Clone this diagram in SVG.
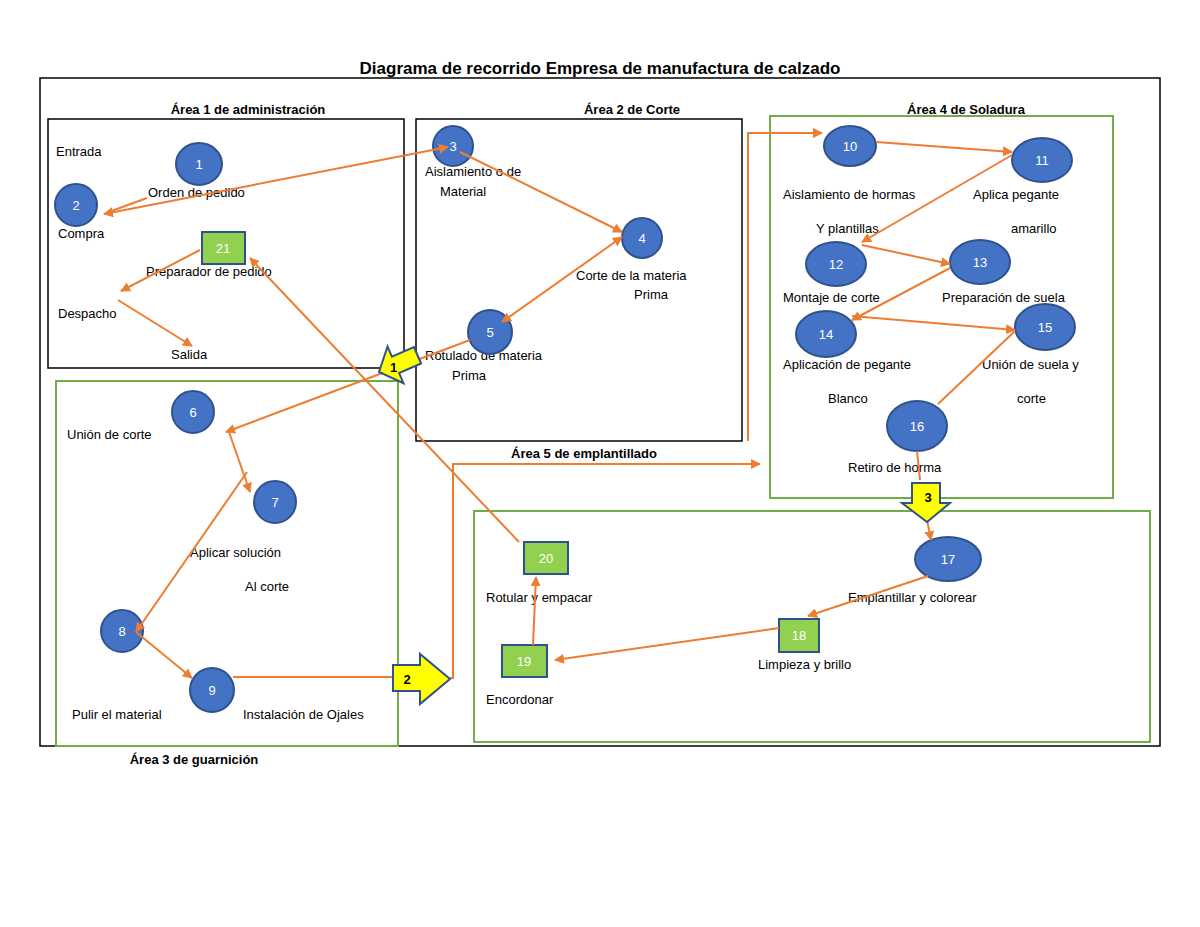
<svg xmlns="http://www.w3.org/2000/svg" width="1200" height="927" viewBox="0 0 1200 927">
<defs>
<marker id="ah" viewBox="0 0 10 10" refX="9" refY="5" markerWidth="5" markerHeight="5" orient="auto-start-reverse"><path d="M0,0 L10,5 L0,10 z" fill="#ED7D31"/></marker>
<style>
text{font-family:"Liberation Sans",Arial,sans-serif;font-size:13px;fill:#000}
.t{font-size:17px;font-weight:bold}
.a{font-weight:bold;text-anchor:middle}
.n{fill:#4472C4;stroke:#2F528F;stroke-width:2}
.s{fill:#92D050;stroke:#2F528F;stroke-width:2}
.w{fill:#fff;text-anchor:middle;font-size:13px}
.c{fill:none;stroke:#ED7D31;stroke-width:2}
.bk{fill:none;stroke:#000;stroke-width:1.5}
.gr{fill:none;stroke:#70AD47;stroke-width:2}
.y{fill:#FFFF00;stroke:#2F528F;stroke-width:2}
</style>
</defs>
<rect width="1200" height="927" fill="#fff"/>
<text class="t" x="600" y="74" text-anchor="middle">Diagrama de recorrido Empresa de manufactura de calzado</text>
<g id="areas">
<rect class="bk" x="40" y="78" width="1120" height="668"/>
<rect class="bk" x="48" y="119" width="356" height="249"/>
<rect class="bk" x="416" y="119" width="326" height="322"/>
<rect class="gr" x="770" y="116" width="343" height="382"/>
<rect class="gr" x="56" y="381" width="342" height="365"/>
<rect class="gr" x="474" y="511" width="676" height="231"/>
<text class="a" x="248" y="114">Área 1 de administración</text>
<text class="a" x="632" y="114">Área 2 de Corte</text>
<text class="a" x="966" y="114">Área 4 de Soladura</text>
<text class="a" x="194" y="764">Área 3 de guarnición</text>
<text class="a" x="584" y="458">Área 5 de emplantillado</text>
</g>
<g id="labels">
<text x="56" y="156">Entrada</text><text x="148" y="197">Orden de pedido</text><text x="58" y="238">Compra</text>
<text x="146" y="276">Preparador de pedido</text><text x="58" y="318">Despacho</text><text x="171" y="359">Salida</text>
<text x="425" y="176">Aislamiento o de</text><text x="440" y="196">Material</text>
<text x="576" y="280">Corte de la materia</text><text x="634" y="299">Prima</text>
<text x="425" y="360">Rotulado de materia</text><text x="452" y="380">Prima</text>
<text x="67" y="439">Unión de corte</text><text x="190" y="557">Aplicar solución</text><text x="245" y="591">Al corte</text>
<text x="72" y="719">Pulir el material</text><text x="243" y="719">Instalación de Ojales</text>
<text x="783" y="199">Aislamiento de hormas</text><text x="973" y="199">Aplica pegante</text>
<text x="816" y="233">Y plantillas</text><text x="1011" y="233">amarillo</text>
<text x="783" y="302">Montaje de corte</text><text x="942" y="302">Preparación de suela</text>
<text x="783" y="369">Aplicación de pegante</text><text x="982" y="369">Unión de suela y</text>
<text x="828" y="403">Blanco</text><text x="1017" y="403">corte</text><text x="848" y="472">Retiro de horma</text>
<text x="486" y="602">Rotular y empacar</text><text x="848" y="602">Emplantillar y colorear</text>
<text x="758" y="669">Limpieza y brillo</text><text x="486" y="704">Encordonar</text>
</g>
<g id="n1"><ellipse class="n" cx="199" cy="164" rx="23" ry="21"/><text class="w" x="199" y="169">1</text></g>
<g id="n2"><ellipse class="n" cx="76" cy="205" rx="21" ry="21"/><text class="w" x="76" y="210">2</text></g>
<g id="n3"><ellipse class="n" cx="453" cy="146" rx="20" ry="20"/><text class="w" x="453" y="151">3</text></g>
<g id="n4"><ellipse class="n" cx="642" cy="238" rx="20" ry="20"/><text class="w" x="642" y="243">4</text></g>
<g id="n5"><ellipse class="n" cx="490" cy="332" rx="22" ry="22"/><text class="w" x="490" y="337">5</text></g>
<g id="n6"><ellipse class="n" cx="193" cy="412" rx="21" ry="21"/><text class="w" x="193" y="417">6</text></g>
<g id="n7"><ellipse class="n" cx="275" cy="502" rx="21" ry="21"/><text class="w" x="275" y="507">7</text></g>
<g id="n8"><ellipse class="n" cx="122" cy="631" rx="21" ry="21"/><text class="w" x="122" y="636">8</text></g>
<g id="n9"><ellipse class="n" cx="212" cy="690" rx="22" ry="22"/><text class="w" x="212" y="695">9</text></g>
<g id="n10"><ellipse class="n" cx="850" cy="146" rx="26" ry="20"/><text class="w" x="850" y="151">10</text></g>
<g id="n11"><ellipse class="n" cx="1042" cy="160" rx="30" ry="22"/><text class="w" x="1042" y="165">11</text></g>
<g id="n12"><ellipse class="n" cx="836" cy="264" rx="30" ry="22"/><text class="w" x="836" y="269">12</text></g>
<g id="n13"><ellipse class="n" cx="980" cy="262" rx="30" ry="22"/><text class="w" x="980" y="267">13</text></g>
<g id="n14"><ellipse class="n" cx="826" cy="334" rx="30" ry="23"/><text class="w" x="826" y="339">14</text></g>
<g id="n15"><ellipse class="n" cx="1045" cy="327" rx="30" ry="23"/><text class="w" x="1045" y="332">15</text></g>
<g id="n16"><ellipse class="n" cx="917" cy="426" rx="30" ry="25"/><text class="w" x="917" y="431">16</text></g>
<g id="n17"><ellipse class="n" cx="948" cy="559" rx="33" ry="22"/><text class="w" x="948" y="564">17</text></g>
<g id="n18"><rect class="s" x="779" y="619" width="40" height="33"/><text class="w" x="799" y="640">18</text></g>
<g id="n19"><rect class="s" x="502" y="645" width="45" height="32"/><text class="w" x="524" y="666">19</text></g>
<g id="n20"><rect class="s" x="524" y="542" width="44" height="32"/><text class="w" x="546" y="563">20</text></g>
<g id="n21"><rect class="s" x="202" y="232" width="43" height="32"/><text class="w" x="223" y="253">21</text></g>
<g id="connectors">
<path class="c" d="M104,214 L448,147" marker-start="url(#ah)" marker-end="url(#ah)"/>
<path class="c" d="M147,198 L106,213"/>
<path class="c" d="M460,152 L622,232" marker-end="url(#ah)"/>
<path class="c" d="M622,237 L502,322" marker-start="url(#ah)" marker-end="url(#ah)"/>
<path class="c" d="M470,340 L226,432" marker-end="url(#ah)"/>
<path class="c" d="M229,432 L250,492" marker-end="url(#ah)"/>
<path class="c" d="M247,472 L136,632" marker-end="url(#ah)"/>
<path class="c" d="M136,632 L192,678" marker-end="url(#ah)"/>
<path class="c" d="M233,677 L393,677"/>
<path class="c" d="M450,678 L453,678 L453,464 L760,464" marker-end="url(#ah)"/>
<path class="c" d="M748,441 L748,133 L822,133" marker-end="url(#ah)"/>
<path class="c" d="M876,142 L1012,152" marker-end="url(#ah)"/>
<path class="c" d="M1012,155 L862,242" marker-end="url(#ah)"/>
<path class="c" d="M862,245 L950,264" marker-end="url(#ah)"/>
<path class="c" d="M950,268 L852,320" marker-end="url(#ah)"/>
<path class="c" d="M852,316 L1015,330" marker-end="url(#ah)"/>
<path class="c" d="M1015,331 L938,404"/>
<path class="c" d="M917,451 L920,480"/>
<path class="c" d="M927,520 L931,540" marker-end="url(#ah)"/>
<path class="c" d="M928,576 L808,616" marker-end="url(#ah)"/>
<path class="c" d="M779,628 L555,660" marker-end="url(#ah)"/>
<path class="c" d="M533,645 L536,577" marker-end="url(#ah)"/>
<path class="c" d="M519,542 L250,258" marker-end="url(#ah)"/>
<path class="c" d="M200,250 L121,291" marker-end="url(#ah)"/>
<path class="c" d="M118,300 L192,346" marker-end="url(#ah)"/>
</g>
<g id="y1"><polygon class="y" transform="translate(379,372) rotate(-23.5)" points="0,0 18,-20 18,-9 42,-9 42,9 18,9 18,20"/><text x="390" y="372" font-weight="bold" font-size="12">1</text></g>
<g id="y2"><polygon class="y" points="393,665 420,665 420,654 450,679 420,704 420,691 393,691"/><text x="407" y="684" font-weight="bold" text-anchor="middle">2</text></g>
<g id="y3"><polygon class="y" points="912,483 940,483 940,503 950,503 927,522 902,503 912,503"/><text x="928" y="502" font-weight="bold" text-anchor="middle">3</text></g>
</svg>
